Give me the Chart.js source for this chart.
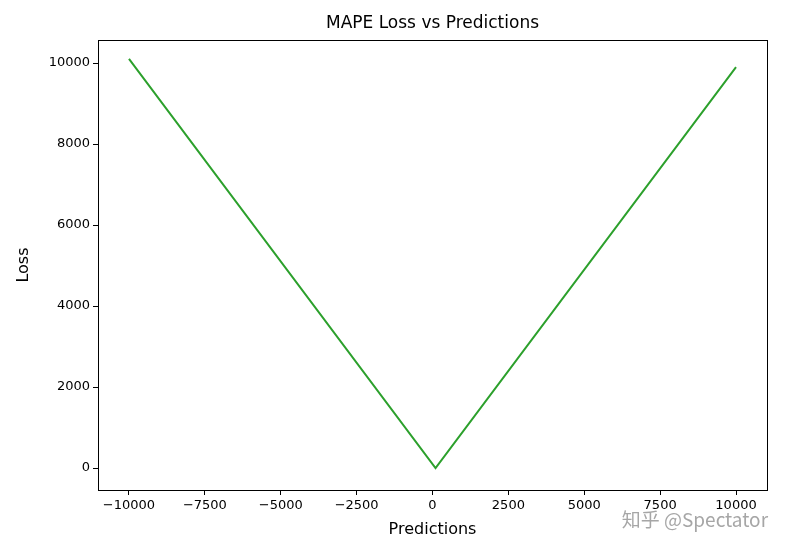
<!DOCTYPE html>
<html><head><meta charset="utf-8">
<script src="https://cdn.jsdelivr.net/npm/chart.js@4/dist/chart.umd.min.js"></script>
<style>html,body{margin:0;padding:0;background:#fff}#w{position:relative;width:786px;height:555px}</style>
</head><body><div id="w"><canvas id="c" width="786" height="555"></canvas></div>
<script>
const predictions = [-10000, 100, 10000];
const losses = [10100, 0, 9900];
const xTicks = [-10000, -7500, -5000, -2500, 0, 2500, 5000, 7500, 10000];
const yTicks = [0, 2000, 4000, 6000, 8000, 10000];
const fmt = v => (v < 0 ? '\u2212' + Math.abs(v) : '' + v);
const F = 'DejaVu Sans';
const frame = {
  id: 'frame',
  afterDraw(ch) {
    const {ctx, chartArea: a} = ch;
    ctx.save();
    ctx.strokeStyle = '#000'; ctx.lineWidth = 1;
    ctx.strokeRect(Math.round(a.left) + 0.5, Math.round(a.top) + 0.5, Math.round(a.right - a.left), Math.round(a.bottom - a.top));
    ctx.fillStyle = '#000'; ctx.textAlign = 'center'; ctx.textBaseline = 'alphabetic';
    ctx.font = '17px ' + F;
    ctx.fillText('MAPE Loss vs Predictions', (a.left + a.right) / 2, 28);
    ctx.font = '19px "Noto Sans CJK SC", ' + F;
    ctx.fillStyle = 'rgba(150,150,150,0.85)'; ctx.textAlign = 'right';
    ctx.fillText('知乎 @Spectator', 768, 527);
    ctx.restore();
  }
};
new Chart(document.getElementById('c'), {
  type: 'scatter',
  data: { datasets: [{ data: predictions.map((x, i) => ({x, y: losses[i]})), showLine: true,
    borderColor: '#2ca02c', borderWidth: 2, pointRadius: 0, tension: 0 }] },
  options: {
    responsive: false, animation: false, devicePixelRatio: 1,
    layout: { padding: { top: 40, right: 19, left: 10, bottom: 12 } },
    plugins: { legend: { display: false }, tooltip: { enabled: false } },
    scales: {
      x: { type: 'linear', min: -11021, max: 11021,
        afterBuildTicks: s => { s.ticks = xTicks.map(v => ({value: v})); },
        afterFit: s => { s.height = 53; },
        grid: { drawOnChartArea: false, tickLength: 5, color: '#000' }, border: { display: false },
        ticks: { callback: v => fmt(v), color: '#000', font: { family: F, size: 13 }, maxRotation: 0, autoSkip: false, padding: 3 },
        title: { display: true, text: 'Predictions', color: '#000', font: { family: F, size: 16 }, padding: { top: 0 } } },
      y: { type: 'linear', min: -543, max: 10568,
        afterBuildTicks: s => { s.ticks = yTicks.map(v => ({value: v})); },
        afterFit: s => { s.width = 88; },
        grid: { drawOnChartArea: false, tickLength: 5, color: '#000' }, border: { display: false },
        ticks: { callback: v => fmt(v), color: '#000', font: { family: F, size: 13 }, autoSkip: false, padding: 3 },
        title: { display: true, text: 'Loss', color: '#000', font: { family: F, size: 16 }, padding: { bottom: 4 } } }
    }
  },
  plugins: [frame]
});
</script></body></html>
